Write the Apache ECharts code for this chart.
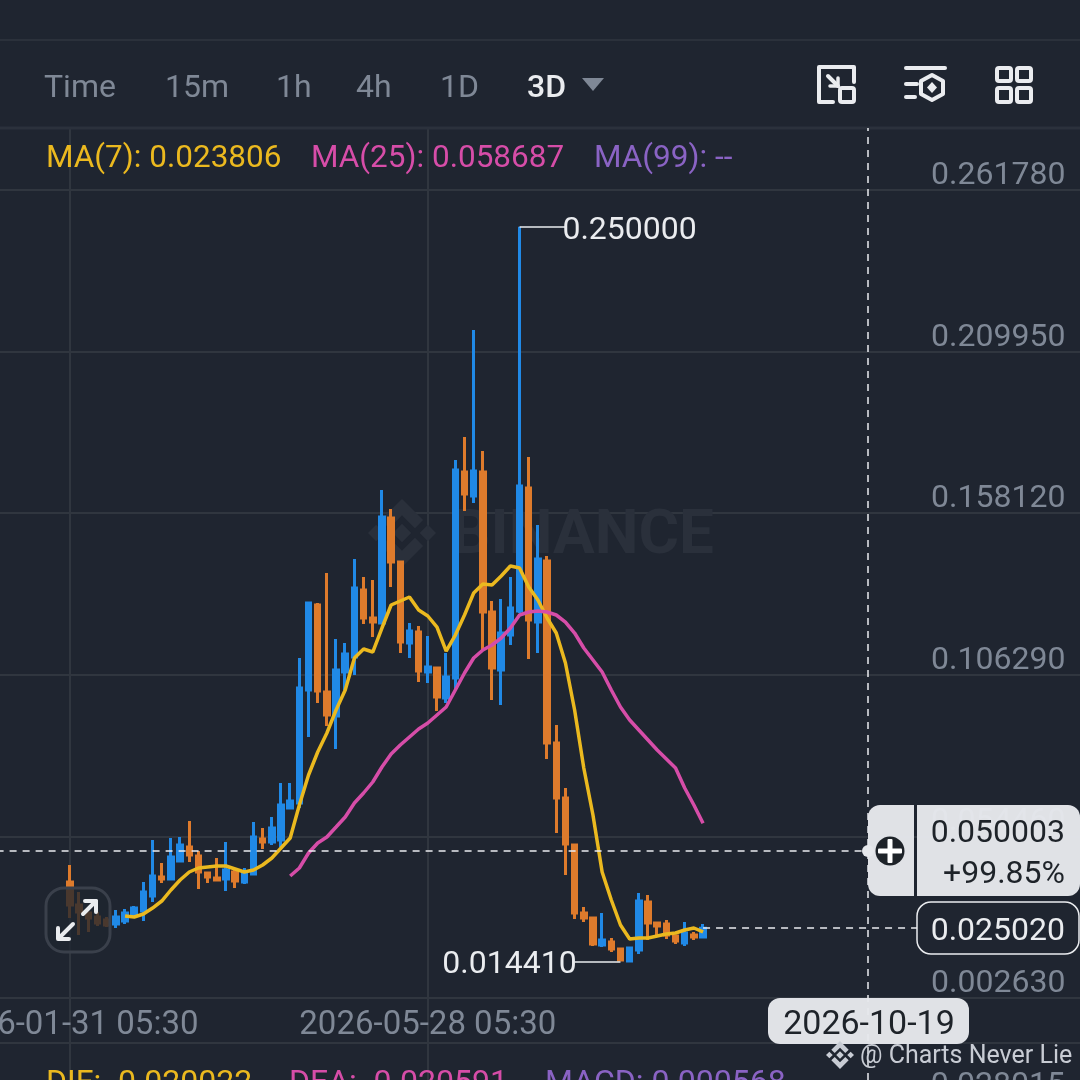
<!DOCTYPE html>
<html>
<head>
<meta charset="utf-8">
<style>html,body{margin:0;padding:0;background:#1f2530;overflow:hidden}#c{width:1080px;height:1080px}</style>
<script src="https://cdn.jsdelivr.net/npm/echarts@6/dist/echarts.min.js"></script>
</head>
<body>
<div id="c"></div>
<script>
const leadingEmptyBands = 8;
const totalBands = 120;
const xTickDates = ['2026-01-31', '2026-05-28'];
const yTicks = [0.00263, 0.05446, 0.10629, 0.15812, 0.20995, 0.26178];

const opens = [.03983,.03246,.02989,.02861,.02765,.02636,.02732,.02925,.03053,.03534,
.04144,.0408,.04657,.05106,.04817,.04272,.04112,.0408,.04304,.03983,
.0424,.05362,.05266,.0533,.06357,.06517,.10141,.12868,.10077,.09307,
.10719,.112,.13349,.12451,.1229,.15658,.14247,.11649,.12002,.10719,
.10847,.09885,.10526,.17133,.16363,.17133,.12643,.10783,.11905,.12675,
.1662,.12322,.14279,.08441,.06677,.0517,.02989,.02829,.01963,.02059,
.01834,.0145,.01802,.03342,.02668,.02636,.02251,.02027,.02283,.02219];
const closes = [.03246,.03021,.02829,.02668,.02604,.02861,.02989,.03149,.03663,.04176,
.0408,.04785,.0517,.04849,.04304,.04144,.04047,.04368,.04015,.04272,
.05427,.05266,.05715,.06453,.06581,.10206,.12932,.10109,.0934,.10783,
.11296,.13413,.12451,.12322,.1569,.14247,.11681,.12034,.10751,.10879,
.09917,.10558,.17197,.16428,.17165,.12643,.10847,.11969,.12771,.16684,
.12386,.14343,.08441,.06677,.05202,.02989,.02829,.01995,.02123,.01834,
.01482,.01866,.03374,.02668,.02572,.02283,.02091,.02348,.02219,.02502];
const lows = [.02829,.02283,.0238,.02572,.0254,.02508,.02636,.02829,.02732,.03342,
.03951,.0406,.04625,.04625,.03759,.03951,.04047,.03695,.03791,.03919,
.04208,.05042,.0517,.05106,.06357,.06357,.08634,.09724,.08987,.08249,
.10141,.10622,.12258,.11841,.1229,.13445,.11328,.11168,.10398,.10366,
.09468,.09724,.10141,.15882,.16139,.11424,.09821,.0966,.11585,.12611,
.11136,.11328,.07928,.05555,.04208,.02797,.027,.01931,.01899,.01738,
.01441,.0145,.01674,.02123,.02283,.02155,.01995,.01931,.02123,.02219];
const highs = [.04529,.03663,.03021,.03021,.02861,.03085,.03117,.03214,.03983,.0533,
.04593,.05395,.05427,.0594,.04978,.04272,.04753,.05266,.04432,.04432,
.05908,.05715,.06068,.07159,.07159,.11168,.12964,.12932,.13894,.11777,
.11649,.14343,.13766,.13669,.16556,.15946,.14247,.1229,.12194,.11873,
.10847,.11328,.17518,.18256,.21688,.17807,.12996,.1306,.13766,.25,
.17614,.15433,.14439,.09019,.06998,.0517,.03181,.02829,.02989,.02187,
.01834,.01866,.03631,.03566,.02668,.02765,.02283,.027,.0238,.02636];

const ma7 = ['-','-','-','-','-','-',.02893,.02861,.02957,.03149,
.03374,.03727,.04047,.04304,.04432,.04464,.04496,.04496,.044,.04304,
.04368,.04529,.04753,.05074,.05395,.06453,.07415,.08153,.08762,.095,
.10141,.11168,.11456,.1136,.1213,.12868,.12996,.13124,.12707,.12515,
.12162,.11392,.11905,.12547,.13252,.13541,.13509,.13798,.14118,.14054,
.13445,.13028,.12451,.11969,.11007,.095,.0764,.06132,.04304,.03406,
.02604,.02155,.02187,.02187,.02251,.02316,.02348,.02444,.02508,.023806];
const ma25 = ['-','-','-','-','-','-','-','-','-','-',
'-','-','-','-','-','-','-','-','-','-',
'-','-','-','-',.04176,.04432,.04913,.05234,.05427,.05747,
.06068,.06517,.06838,.07191,.07672,.08089,.08377,.08634,.0889,.09083,
.0934,.09596,.10141,.10687,.11168,.11424,.11585,.11809,.1213,.12547,
.12643,.12675,.12643,.12547,.12322,.11969,.11488,.11104,.10719,.10141,
.09596,.09179,.08858,.08538,.08217,.07928,.0764,.06998,.06453,.058687];

const crossDate = '2026-10-19';
const crossPrice = 0.050003;
const lastPrice = 0.02502;
const highPrice = 0.25;
const lowPrice = 0.01441;

const UP = '#2089E6', DOWN = '#DE7B2C', BG = '#1F2530', GRIDC = '#30363F', GRAY = '#7F8896';
const YEL = '#EBB91F', MAG = '#D64DA8', PUR = '#8A63C4';
const FONT = 'Roboto';

/* axis categories */
const categories = [];
{
  const t0 = Date.UTC(2026, 0, 31);
  for (let i = 0; i < totalBands; i++) {
    categories.push(new Date(t0 + (i - leadingEmptyBands) * 3 * 86400000).toISOString().slice(0, 10));
  }
}
function padded(a) {
  const out = [];
  for (let i = 0; i < totalBands; i++) {
    const k = i - leadingEmptyBands;
    out.push(k >= 0 && k < a.length ? a[k] : '-');
  }
  return out;
}
const candleRows = categories.map((_, i) => {
  const k = i - leadingEmptyBands;
  return k >= 0 && k < opens.length ? [opens[k], closes[k], lows[k], highs[k]] : ['-', '-', '-', '-'];
});
const idx = k => categories[k + leadingEmptyBands];

/* chrome helpers */
function txt(text, x, y, size, fill, align, weight, z) {
  return { type: 'text', z: z || 30, silent: true,
    style: { text, x, y, fill, textAlign: align || 'left', textVerticalAlign: 'middle',
      font: (weight || 400) + ' ' + size + 'px ' + FONT } };
}
function line(x1, y1, x2, y2, stroke, w, z, extra) {
  return { type: 'line', z: z || 30, silent: true, shape: { x1, y1, x2, y2 },
    style: Object.assign({ stroke, lineWidth: w, lineCap: 'round' }, extra || {}) };
}
function rrect(x, y, width, height, r, fill, stroke, w, z) {
  return { type: 'rect', z: z || 30, silent: true, shape: { x, y, width, height, r },
    style: { fill: fill || 'transparent', stroke: stroke || 'transparent', lineWidth: w || 0 } };
}
function poly(points, fill, z) {
  return { type: 'polygon', z: z || 30, silent: true, shape: { points }, style: { fill } };
}
function pline(points, stroke, w, z) {
  return { type: 'polyline', z: z || 30, silent: true, shape: { points },
    style: { stroke, lineWidth: w, fill: 'transparent', lineCap: 'round', lineJoin: 'round' } };
}
function logo(cx, cy, s, fill, z) {
  const P = a => a.map(p => [cx + p[0] * s, cy + p[1] * s]);
  const dia = (x, r) => P([[x, -r], [x + r, 0], [x, r], [x - r, 0]]);
  const top = [[0, -1], [.62, -.38], [.38, -.14], [0, -.52], [-.38, -.14], [-.62, -.38]];
  const bot = top.map(p => [p[0], -p[1]]);
  return [poly(dia(0, .27), fill, z), poly(dia(-.76, .24), fill, z), poly(dia(.76, .24), fill, z),
    poly(P(top), fill, z), poly(P(bot), fill, z)];
}
const W = '#EAECEF', INK = '#1E2329', BOX = 'rgba(230,232,236,0.97)';
const graphics = [
  line(0, 40, 1080, 40, GRIDC, 1.5, 1),
  line(0, 128, 1080, 128, '#2B313C', 3, 1),
  line(0, 1043, 1080, 1043, GRIDC, 2, 1),
  /* tabs */
  txt('Time', 44, 89, 32, GRAY), txt('15m', 165, 89, 32, GRAY), txt('1h', 276, 89, 32, GRAY),
  txt('4h', 356, 89, 32, GRAY), txt('1D', 440, 89, 32, GRAY), txt('3D', 527, 89, 32, W, 'left', 500),
  poly([[582, 78], [604, 78], [593, 91]], GRAY),
  /* icon 1 */
  pline([[833, 102], [819, 102], [819, 67], [854, 67], [854, 82]], W, 4),
  rrect(840, 88, 14, 14, 2, null, W, 4),
  pline([[828, 76], [838, 86]], W, 4), pline([[838, 78], [838, 86], [830, 86]], W, 3.5),
  /* icon 2 */
  line(906, 68, 945, 68, W, 4), line(906, 84, 917, 84, W, 4), line(906, 97, 915, 97, W, 4),
  { type: 'polygon', z: 30, silent: true,
    shape: { points: [[932, 75], [943, 81], [943, 94], [932, 100], [921, 94], [921, 81]] },
    style: { fill: 'transparent', stroke: W, lineWidth: 4, lineJoin: 'round' } },
  poly([[932, 82], [937, 87.5], [932, 93], [927, 87.5]], W),
  /* icon 3 */
  rrect(997, 68, 14, 13, 2, null, W, 4), rrect(1017, 68, 14, 13, 2, null, W, 4),
  rrect(997, 88, 14, 14, 2, null, W, 4), rrect(1017, 88, 14, 14, 2, null, W, 4),
  /* legend */
  txt('MA(7): 0.023806', 46, 159.5, 31.5, YEL),
  txt('MA(25): 0.058687', 311, 159.5, 31.5, MAG),
  txt('MA(99): --', 594, 159.5, 31.5, PUR),
  /* watermark */
  ...logo(402, 533, 34, '#2A303B', 1),
  txt('BINANCE', 451, 537, 62, '#2A303B', 'left', 700, 1),
  /* expand button */
  rrect(46, 888, 64, 64, 18, 'rgba(31,37,48,0.78)', '#3A404B', 3, 20),
  pline([[59, 938], [73, 924]], W, 4, 21), pline([[58, 928], [58, 939], [69, 939]], W, 4, 21),
  pline([[83, 914], [96, 901]], W, 4, 21), pline([[85, 901], [96, 901], [96, 912]], W, 4, 21),
  /* crosshair price box */
  rrect(868, 805, 46, 91, [12, 0, 0, 12], BOX, null, 0, 30),
  rrect(917, 805, 163, 91, [0, 12, 12, 0], BOX, null, 0, 30),
  { type: 'circle', z: 31, silent: true, shape: { cx: 868, cy: 851, r: 6 }, style: { fill: '#E6E8EC' } },
  { type: 'circle', z: 31, silent: true, shape: { cx: 890, cy: 851, r: 14.5 }, style: { fill: INK } },
  rrect(878, 848.5, 24, 5, 1, '#FFFFFF', null, 0, 32), rrect(887.5, 839, 5, 24, 1, '#FFFFFF', null, 0, 32),
  txt('0.050003', 1065, 834, 32, INK, 'right', 400, 32),
  txt('+99.85%', 1065, 875, 32, INK, 'right', 400, 32),
  /* last price box */
  rrect(917, 902, 162, 52, 14, BG, W, 1.5, 30),
  txt('0.025020', 1065, 932, 32, W, 'right', 400, 32),
  /* date box */
  rrect(768, 998, 201, 46, 12, BOX, null, 0, 30),
  txt('2026-10-19', 869, 1025, 34, INK, 'center', 400, 32),
  /* footer */
  txt('DIF: -0.020022', 46, 1084, 32, YEL),
  txt('DEA: -0.020591', 289, 1084, 32, MAG),
  txt('MACD: 0.000568', 545, 1084, 32, PUR),
  txt('0.028015', 1065, 1086, 32, GRAY, 'right'),
  ...logo(840, 1055, 14, '#C8CCD4', 33),
  txt('@ Charts Never Lie', 860, 1057, 25, '#C8CCD4', 'left', 400, 33)
];

const dash = { color: '#EAECEF', width: 1.5, type: [7, 6] };
const option = {
  backgroundColor: BG,
  animation: false,
  textStyle: { fontFamily: FONT },
  grid: { left: -3.4, width: 1091.8, top: 128, bottom: 0, containLabel: false, outerBoundsMode: 'none' },
  xAxis: {
    type: 'category', data: categories, boundaryGap: false,
    axisLine: { show: false }, axisTick: { show: false },
    splitLine: { show: true, interval: (i, v) => xTickDates.includes(v), lineStyle: { color: GRIDC, width: 2 } },
    axisLabel: { inside: true, margin: 38, color: GRAY, fontSize: 33, fontFamily: FONT,
      interval: (i, v) => xTickDates.includes(v), formatter: v => v + ' 05:30', hideOverlap: false }
  },
  yAxis: {
    type: 'value', position: 'right', min: -0.02367, max: 0.28167, scale: true,
    axisLine: { show: false }, axisTick: { show: false, customValues: yTicks },
    splitLine: { show: true, lineStyle: { color: GRIDC, width: 2 } },
    axisLabel: { inside: true, margin: 23, color: GRAY, fontSize: 32, fontFamily: FONT, align: 'right',
      verticalAlign: 'bottom', lineHeight: 28, customValues: yTicks, formatter: v => v.toFixed(6) }
  },
  graphic: { elements: graphics },
  series: [
    { type: 'candlestick', name: 'price', data: candleRows, barWidth: 5, z: 2,
      itemStyle: { color: UP, color0: DOWN, borderColor: UP, borderColor0: DOWN, borderWidth: 3 },
      markLine: {
        silent: true, symbol: 'none', animation: false, precision: 6,
        data: [
          [{ coord: [idx(49), highPrice], lineStyle: { color: W, width: 1.5, type: 'solid' },
             label: { show: true, position: 'end', formatter: '0.250000', color: W, fontSize: 32, fontFamily: FONT, distance: 0, offset: [-3, 4] } },
           { coord: [idx(54), highPrice] }],
          [{ coord: [idx(60), lowPrice], lineStyle: { color: W, width: 1.5, type: 'solid' },
             label: { show: true, position: 'end', formatter: '0.014410', color: W, fontSize: 32, fontFamily: FONT, distance: 0, offset: [2, 4] } },
           { coord: [idx(55), lowPrice] }],
          [{ coord: [categories[0], crossPrice], lineStyle: dash, label: { show: false } },
           { coord: [crossDate, crossPrice] }],
          [{ coord: [idx(69), lastPrice], lineStyle: dash, label: { show: false } },
           { coord: [idx(93), lastPrice] }],
          [{ coord: [crossDate, -0.02367], lineStyle: dash, label: { show: false } },
           { coord: [crossDate, 0.28167] }]
        ]
      } },
    { type: 'line', name: 'MA(7)', data: padded(ma7), symbol: 'none', z: 3, connectNulls: false,
      lineStyle: { color: YEL, width: 3.5 }, smooth: false },
    { type: 'line', name: 'MA(25)', data: padded(ma25), symbol: 'none', z: 3, connectNulls: false,
      lineStyle: { color: MAG, width: 3.5 }, smooth: false }
  ]
};
const chart = echarts.init(document.getElementById('c'), null, { renderer: 'canvas', width: 1080, height: 1080 });
chart.setOption(option);
</script>
</body>
</html>
